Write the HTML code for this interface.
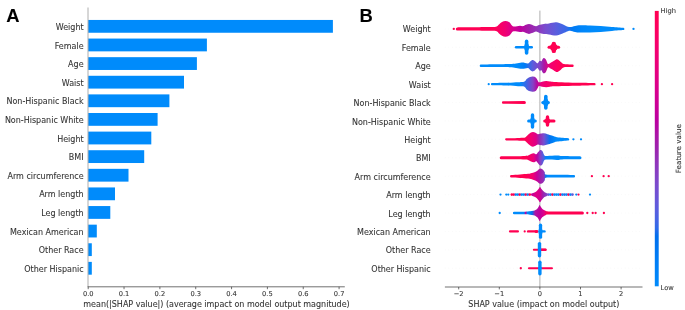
<!DOCTYPE html>
<html><head><meta charset="utf-8"><title>SHAP summary</title>
<style>html,body{margin:0;padding:0;background:#fff;width:685px;height:310px;overflow:hidden}svg{display:block}</style>
</head><body><svg width="685" height="310" viewBox="0 0 685 310"><defs><linearGradient id="cb" x1="0" y1="0" x2="0" y2="1"><stop offset="0.000" stop-color="#ff0051"/><stop offset="0.030" stop-color="#ff0058"/><stop offset="0.061" stop-color="#fd005f"/><stop offset="0.091" stop-color="#fa0065"/><stop offset="0.121" stop-color="#f6006c"/><stop offset="0.152" stop-color="#f10072"/><stop offset="0.182" stop-color="#ec0078"/><stop offset="0.212" stop-color="#e7007e"/><stop offset="0.242" stop-color="#e10084"/><stop offset="0.273" stop-color="#db008a"/><stop offset="0.303" stop-color="#d40090"/><stop offset="0.333" stop-color="#cd0095"/><stop offset="0.364" stop-color="#c5009a"/><stop offset="0.394" stop-color="#bc009f"/><stop offset="0.424" stop-color="#b30aa3"/><stop offset="0.455" stop-color="#aa17a7"/><stop offset="0.485" stop-color="#a01fab"/><stop offset="0.515" stop-color="#9829b1"/><stop offset="0.545" stop-color="#9233b9"/><stop offset="0.576" stop-color="#8a3cc0"/><stop offset="0.606" stop-color="#8244c7"/><stop offset="0.636" stop-color="#794cce"/><stop offset="0.667" stop-color="#6f52d4"/><stop offset="0.697" stop-color="#6459da"/><stop offset="0.727" stop-color="#575fdf"/><stop offset="0.758" stop-color="#4664e4"/><stop offset="0.788" stop-color="#306ae9"/><stop offset="0.818" stop-color="#006fed"/><stop offset="0.848" stop-color="#0074f0"/><stop offset="0.879" stop-color="#0079f3"/><stop offset="0.909" stop-color="#007ef6"/><stop offset="0.939" stop-color="#0082f8"/><stop offset="0.970" stop-color="#0086fa"/><stop offset="1.000" stop-color="#008bfb"/><stop offset="1" stop-color="#008bfb"/></linearGradient><linearGradient id="g1" gradientUnits="userSpaceOnUse" x1="455.8" y1="0" x2="624.4" y2="0"><stop offset="0.0012" stop-color="#ff0051"/><stop offset="0.2325" stop-color="#ff0058"/><stop offset="0.2918" stop-color="#f10072"/><stop offset="0.3333" stop-color="#d9008c"/><stop offset="0.3808" stop-color="#bf009d"/><stop offset="0.4342" stop-color="#a01fab"/><stop offset="0.4816" stop-color="#9233b9"/><stop offset="0.5291" stop-color="#794cce"/><stop offset="0.5943" stop-color="#5b5ddd"/><stop offset="0.6536" stop-color="#3968e7"/><stop offset="0.6892" stop-color="#0079f3"/><stop offset="0.7485" stop-color="#0086fa"/><stop offset="0.8078" stop-color="#008bfb"/></linearGradient><linearGradient id="g2" gradientUnits="userSpaceOnUse" x1="479.7" y1="0" x2="573.7" y2="0"><stop offset="0.0000" stop-color="#008bfb"/><stop offset="0.4074" stop-color="#008bfb"/><stop offset="0.4819" stop-color="#007cf5"/><stop offset="0.5628" stop-color="#5b5ddd"/><stop offset="0.6415" stop-color="#8542c5"/><stop offset="0.6840" stop-color="#aa17a7"/><stop offset="0.7479" stop-color="#f10072"/><stop offset="0.8223" stop-color="#fc0061"/><stop offset="0.9074" stop-color="#ff0051"/></linearGradient><linearGradient id="g3" gradientUnits="userSpaceOnUse" x1="490.9" y1="0" x2="595.6" y2="0"><stop offset="0.0000" stop-color="#008bfb"/><stop offset="0.2779" stop-color="#008bfb"/><stop offset="0.3352" stop-color="#3968e7"/><stop offset="0.4021" stop-color="#8542c5"/><stop offset="0.4403" stop-color="#b30aa3"/><stop offset="0.4785" stop-color="#e9007c"/><stop offset="0.5645" stop-color="#fc0061"/><stop offset="0.6409" stop-color="#ff0051"/></linearGradient><linearGradient id="g4" gradientUnits="userSpaceOnUse" x1="505.1" y1="0" x2="569.3" y2="0"><stop offset="0.0000" stop-color="#ff0051"/><stop offset="0.3100" stop-color="#ff0051"/><stop offset="0.4034" stop-color="#f10072"/><stop offset="0.4813" stop-color="#df0086"/><stop offset="0.5280" stop-color="#9d22ac"/><stop offset="0.6059" stop-color="#764ed0"/><stop offset="0.6994" stop-color="#0074f0"/><stop offset="0.7928" stop-color="#008bfb"/></linearGradient><linearGradient id="g5" gradientUnits="userSpaceOnUse" x1="499.7" y1="0" x2="581.5" y2="0"><stop offset="0.0000" stop-color="#ff0051"/><stop offset="0.3215" stop-color="#ff0051"/><stop offset="0.4169" stop-color="#e9007c"/><stop offset="0.4560" stop-color="#b900a0"/><stop offset="0.4976" stop-color="#8542c5"/><stop offset="0.5355" stop-color="#4c63e3"/><stop offset="0.5660" stop-color="#0084f9"/><stop offset="0.6149" stop-color="#008bfb"/></linearGradient><linearGradient id="g6" gradientUnits="userSpaceOnUse" x1="510" y1="0" x2="575.1" y2="0"><stop offset="0.0000" stop-color="#ff0051"/><stop offset="0.2458" stop-color="#ff0051"/><stop offset="0.3533" stop-color="#f10072"/><stop offset="0.4147" stop-color="#c70098"/><stop offset="0.4762" stop-color="#9d22ac"/><stop offset="0.5223" stop-color="#9233b9"/><stop offset="0.5499" stop-color="#007cf5"/><stop offset="0.5837" stop-color="#008bfb"/></linearGradient><linearGradient id="g7" gradientUnits="userSpaceOnUse" x1="531" y1="0" x2="548" y2="0"><stop offset="0.0000" stop-color="#b900a0"/><stop offset="0.2941" stop-color="#df0086"/><stop offset="0.5294" stop-color="#d40090"/><stop offset="0.7059" stop-color="#9d22ac"/><stop offset="1.0000" stop-color="#764ed0"/></linearGradient><linearGradient id="g8" gradientUnits="userSpaceOnUse" x1="512.9" y1="0" x2="583.9" y2="0"><stop offset="0.0000" stop-color="#008bfb"/><stop offset="0.1563" stop-color="#008bfb"/><stop offset="0.1789" stop-color="#b900a0"/><stop offset="0.2056" stop-color="#008bfb"/><stop offset="0.2690" stop-color="#0074f0"/><stop offset="0.3113" stop-color="#aa17a7"/><stop offset="0.3817" stop-color="#bf009d"/><stop offset="0.4380" stop-color="#df0086"/><stop offset="0.4803" stop-color="#ff0051"/><stop offset="1.0000" stop-color="#ff0051"/></linearGradient></defs><style>text{stroke:#333;stroke-width:0.08px}</style><text x="6.3" y="21.6" font-family="Liberation Sans, Arial, sans-serif" font-weight="bold" font-size="18.4" fill="#000">A</text><rect x="88.20" y="19.95" width="244.70" height="12.8" fill="#008bfb"/><text x="83.6" y="29.90" text-anchor="end" font-family="'DejaVu Sans', sans-serif" font-size="8.0" fill="#333">Weight</text><rect x="88.20" y="38.56" width="118.70" height="12.8" fill="#008bfb"/><text x="83.6" y="48.51" text-anchor="end" font-family="'DejaVu Sans', sans-serif" font-size="8.0" fill="#333">Female</text><rect x="88.20" y="57.17" width="108.70" height="12.8" fill="#008bfb"/><text x="83.6" y="67.12" text-anchor="end" font-family="'DejaVu Sans', sans-serif" font-size="8.0" fill="#333">Age</text><rect x="88.20" y="75.78" width="95.80" height="12.8" fill="#008bfb"/><text x="83.6" y="85.73" text-anchor="end" font-family="'DejaVu Sans', sans-serif" font-size="8.0" fill="#333">Waist</text><rect x="88.20" y="94.39" width="81.20" height="12.8" fill="#008bfb"/><text x="83.6" y="104.34" text-anchor="end" font-family="'DejaVu Sans', sans-serif" font-size="8.0" fill="#333">Non-Hispanic Black</text><rect x="88.20" y="113.00" width="69.40" height="12.8" fill="#008bfb"/><text x="83.6" y="122.95" text-anchor="end" font-family="'DejaVu Sans', sans-serif" font-size="8.0" fill="#333">Non-Hispanic White</text><rect x="88.20" y="131.61" width="63.10" height="12.8" fill="#008bfb"/><text x="83.6" y="141.56" text-anchor="end" font-family="'DejaVu Sans', sans-serif" font-size="8.0" fill="#333">Height</text><rect x="88.20" y="150.22" width="56.00" height="12.8" fill="#008bfb"/><text x="83.6" y="160.17" text-anchor="end" font-family="'DejaVu Sans', sans-serif" font-size="8.0" fill="#333">BMI</text><rect x="88.20" y="168.83" width="40.30" height="12.8" fill="#008bfb"/><text x="83.6" y="178.78" text-anchor="end" font-family="'DejaVu Sans', sans-serif" font-size="8.0" fill="#333">Arm circumference</text><rect x="88.20" y="187.44" width="26.80" height="12.8" fill="#008bfb"/><text x="83.6" y="197.39" text-anchor="end" font-family="'DejaVu Sans', sans-serif" font-size="8.0" fill="#333">Arm length</text><rect x="88.20" y="206.05" width="22.10" height="12.8" fill="#008bfb"/><text x="83.6" y="216.00" text-anchor="end" font-family="'DejaVu Sans', sans-serif" font-size="8.0" fill="#333">Leg length</text><rect x="88.20" y="224.66" width="8.60" height="12.8" fill="#008bfb"/><text x="83.6" y="234.61" text-anchor="end" font-family="'DejaVu Sans', sans-serif" font-size="8.0" fill="#333">Mexican American</text><rect x="88.20" y="243.27" width="3.60" height="12.8" fill="#008bfb"/><text x="83.6" y="253.22" text-anchor="end" font-family="'DejaVu Sans', sans-serif" font-size="8.0" fill="#333">Other Race</text><rect x="88.20" y="261.88" width="3.60" height="12.8" fill="#008bfb"/><text x="83.6" y="271.83" text-anchor="end" font-family="'DejaVu Sans', sans-serif" font-size="8.0" fill="#333">Other Hispanic</text><line x1="88.00" y1="7.5" x2="88.00" y2="286.8" stroke="#999" stroke-width="0.8"/><line x1="87.60" y1="286.8" x2="344.8" y2="286.8" stroke="#333" stroke-width="0.7"/><line x1="88.20" y1="286.8" x2="88.20" y2="289.2" stroke="#333" stroke-width="0.7"/><text x="88.20" y="296.0" text-anchor="middle" font-family="'DejaVu Sans', sans-serif" font-size="6.7" fill="#333">0.0</text><line x1="124.04" y1="286.8" x2="124.04" y2="289.2" stroke="#333" stroke-width="0.7"/><text x="124.04" y="296.0" text-anchor="middle" font-family="'DejaVu Sans', sans-serif" font-size="6.7" fill="#333">0.1</text><line x1="159.88" y1="286.8" x2="159.88" y2="289.2" stroke="#333" stroke-width="0.7"/><text x="159.88" y="296.0" text-anchor="middle" font-family="'DejaVu Sans', sans-serif" font-size="6.7" fill="#333">0.2</text><line x1="195.72" y1="286.8" x2="195.72" y2="289.2" stroke="#333" stroke-width="0.7"/><text x="195.72" y="296.0" text-anchor="middle" font-family="'DejaVu Sans', sans-serif" font-size="6.7" fill="#333">0.3</text><line x1="231.56" y1="286.8" x2="231.56" y2="289.2" stroke="#333" stroke-width="0.7"/><text x="231.56" y="296.0" text-anchor="middle" font-family="'DejaVu Sans', sans-serif" font-size="6.7" fill="#333">0.4</text><line x1="267.40" y1="286.8" x2="267.40" y2="289.2" stroke="#333" stroke-width="0.7"/><text x="267.40" y="296.0" text-anchor="middle" font-family="'DejaVu Sans', sans-serif" font-size="6.7" fill="#333">0.5</text><line x1="303.24" y1="286.8" x2="303.24" y2="289.2" stroke="#333" stroke-width="0.7"/><text x="303.24" y="296.0" text-anchor="middle" font-family="'DejaVu Sans', sans-serif" font-size="6.7" fill="#333">0.6</text><line x1="339.08" y1="286.8" x2="339.08" y2="289.2" stroke="#333" stroke-width="0.7"/><text x="339.08" y="296.0" text-anchor="middle" font-family="'DejaVu Sans', sans-serif" font-size="6.7" fill="#333">0.7</text><text x="216.5" y="306.9" text-anchor="middle" font-family="'DejaVu Sans', sans-serif" font-size="8.0" fill="#333">mean(|SHAP value|) (average impact on model output magnitude)</text><text x="359.4" y="21.6" font-family="Liberation Sans, Arial, sans-serif" font-weight="bold" font-size="18.4" fill="#000">B</text><line x1="444.9" y1="28.90" x2="642.5" y2="28.90" stroke="#e8e8e8" stroke-width="0.4" stroke-dasharray="0.6 3"/><text x="430.7" y="32.45" text-anchor="end" font-family="'DejaVu Sans', sans-serif" font-size="8.0" fill="#333">Weight</text><line x1="444.9" y1="47.31" x2="642.5" y2="47.31" stroke="#e8e8e8" stroke-width="0.4" stroke-dasharray="0.6 3"/><text x="430.7" y="50.86" text-anchor="end" font-family="'DejaVu Sans', sans-serif" font-size="8.0" fill="#333">Female</text><line x1="444.9" y1="65.72" x2="642.5" y2="65.72" stroke="#e8e8e8" stroke-width="0.4" stroke-dasharray="0.6 3"/><text x="430.7" y="69.27" text-anchor="end" font-family="'DejaVu Sans', sans-serif" font-size="8.0" fill="#333">Age</text><line x1="444.9" y1="84.13" x2="642.5" y2="84.13" stroke="#e8e8e8" stroke-width="0.4" stroke-dasharray="0.6 3"/><text x="430.7" y="87.68" text-anchor="end" font-family="'DejaVu Sans', sans-serif" font-size="8.0" fill="#333">Waist</text><line x1="444.9" y1="102.54" x2="642.5" y2="102.54" stroke="#e8e8e8" stroke-width="0.4" stroke-dasharray="0.6 3"/><text x="430.7" y="106.09" text-anchor="end" font-family="'DejaVu Sans', sans-serif" font-size="8.0" fill="#333">Non-Hispanic Black</text><line x1="444.9" y1="120.95" x2="642.5" y2="120.95" stroke="#e8e8e8" stroke-width="0.4" stroke-dasharray="0.6 3"/><text x="430.7" y="124.50" text-anchor="end" font-family="'DejaVu Sans', sans-serif" font-size="8.0" fill="#333">Non-Hispanic White</text><line x1="444.9" y1="139.36" x2="642.5" y2="139.36" stroke="#e8e8e8" stroke-width="0.4" stroke-dasharray="0.6 3"/><text x="430.7" y="142.91" text-anchor="end" font-family="'DejaVu Sans', sans-serif" font-size="8.0" fill="#333">Height</text><line x1="444.9" y1="157.77" x2="642.5" y2="157.77" stroke="#e8e8e8" stroke-width="0.4" stroke-dasharray="0.6 3"/><text x="430.7" y="161.32" text-anchor="end" font-family="'DejaVu Sans', sans-serif" font-size="8.0" fill="#333">BMI</text><line x1="444.9" y1="176.18" x2="642.5" y2="176.18" stroke="#e8e8e8" stroke-width="0.4" stroke-dasharray="0.6 3"/><text x="430.7" y="179.73" text-anchor="end" font-family="'DejaVu Sans', sans-serif" font-size="8.0" fill="#333">Arm circumference</text><line x1="444.9" y1="194.59" x2="642.5" y2="194.59" stroke="#e8e8e8" stroke-width="0.4" stroke-dasharray="0.6 3"/><text x="430.7" y="198.14" text-anchor="end" font-family="'DejaVu Sans', sans-serif" font-size="8.0" fill="#333">Arm length</text><line x1="444.9" y1="213.00" x2="642.5" y2="213.00" stroke="#e8e8e8" stroke-width="0.4" stroke-dasharray="0.6 3"/><text x="430.7" y="216.55" text-anchor="end" font-family="'DejaVu Sans', sans-serif" font-size="8.0" fill="#333">Leg length</text><line x1="444.9" y1="231.41" x2="642.5" y2="231.41" stroke="#e8e8e8" stroke-width="0.4" stroke-dasharray="0.6 3"/><text x="430.7" y="234.96" text-anchor="end" font-family="'DejaVu Sans', sans-serif" font-size="8.0" fill="#333">Mexican American</text><line x1="444.9" y1="249.82" x2="642.5" y2="249.82" stroke="#e8e8e8" stroke-width="0.4" stroke-dasharray="0.6 3"/><text x="430.7" y="253.37" text-anchor="end" font-family="'DejaVu Sans', sans-serif" font-size="8.0" fill="#333">Other Race</text><line x1="444.9" y1="268.23" x2="642.5" y2="268.23" stroke="#e8e8e8" stroke-width="0.4" stroke-dasharray="0.6 3"/><text x="430.7" y="271.78" text-anchor="end" font-family="'DejaVu Sans', sans-serif" font-size="8.0" fill="#333">Other Hispanic</text><line x1="539.9" y1="10.6" x2="539.9" y2="287" stroke="#999" stroke-width="0.8"/><line x1="444.9" y1="287" x2="642.5" y2="287" stroke="#333" stroke-width="0.7"/><line x1="458.70" y1="287" x2="458.70" y2="289.4" stroke="#333" stroke-width="0.7"/><text x="458.70" y="296.0" text-anchor="middle" font-family="'DejaVu Sans', sans-serif" font-size="6.7" fill="#333">−2</text><line x1="499.30" y1="287" x2="499.30" y2="289.4" stroke="#333" stroke-width="0.7"/><text x="499.30" y="296.0" text-anchor="middle" font-family="'DejaVu Sans', sans-serif" font-size="6.7" fill="#333">−1</text><line x1="539.90" y1="287" x2="539.90" y2="289.4" stroke="#333" stroke-width="0.7"/><text x="539.90" y="296.0" text-anchor="middle" font-family="'DejaVu Sans', sans-serif" font-size="6.7" fill="#333">0</text><line x1="580.50" y1="287" x2="580.50" y2="289.4" stroke="#333" stroke-width="0.7"/><text x="580.50" y="296.0" text-anchor="middle" font-family="'DejaVu Sans', sans-serif" font-size="6.7" fill="#333">1</text><line x1="621.10" y1="287" x2="621.10" y2="289.4" stroke="#333" stroke-width="0.7"/><text x="621.10" y="296.0" text-anchor="middle" font-family="'DejaVu Sans', sans-serif" font-size="6.7" fill="#333">2</text><text x="543.8" y="306.8" text-anchor="middle" font-family="'DejaVu Sans', sans-serif" font-size="8.0" fill="#333">SHAP value (impact on model output)</text><rect x="654.8" y="10.9" width="3.9" height="275.4" fill="url(#cb)"/><text x="660.6" y="12.9" font-family="'DejaVu Sans', sans-serif" font-size="6.7" fill="#333">High</text><text x="660.6" y="289.5" font-family="'DejaVu Sans', sans-serif" font-size="6.7" fill="#333">Low</text><text transform="translate(681.3,148.6) rotate(-90)" text-anchor="middle" font-family="'DejaVu Sans', sans-serif" font-size="7.2" fill="#333">Feature value</text><circle cx="453.80" cy="28.90" r="1.15" fill="#ff0051"/><path d="M457.30,27.40 C459.42,27.38 464.88,27.36 470.00,27.30 C475.12,27.24 483.67,27.15 488.00,27.05 C492.33,26.95 494.17,27.14 496.00,26.70 C497.83,26.26 498.00,25.17 499.00,24.40 C500.00,23.63 500.93,22.65 502.00,22.10 C503.07,21.55 504.23,21.10 505.40,21.10 C506.57,21.10 507.98,21.47 509.00,22.10 C510.02,22.73 510.75,24.17 511.50,24.90 C512.25,25.63 512.58,26.27 513.50,26.50 C514.42,26.73 515.92,26.43 517.00,26.30 C518.08,26.17 519.00,25.73 520.00,25.70 C521.00,25.67 522.00,26.27 523.00,26.10 C524.00,25.93 525.00,25.07 526.00,24.70 C527.00,24.33 528.00,23.90 529.00,23.90 C530.00,23.90 530.83,24.30 532.00,24.70 C533.17,25.10 534.83,26.23 536.00,26.30 C537.17,26.37 537.70,25.50 539.00,25.10 C540.30,24.70 542.13,24.18 543.80,23.90 C545.47,23.62 546.93,23.67 549.00,23.40 C551.07,23.13 554.03,22.18 556.20,22.30 C558.37,22.42 560.37,23.50 562.00,24.10 C563.63,24.70 564.67,25.40 566.00,25.90 C567.33,26.40 568.50,27.10 570.00,27.10 C571.50,27.10 573.28,26.22 575.00,25.90 C576.72,25.58 577.80,25.28 580.30,25.20 C582.80,25.12 586.60,25.28 590.00,25.40 C593.40,25.52 597.03,25.65 600.70,25.90 C604.37,26.15 608.25,26.60 612.00,26.90 C615.75,27.20 621.33,27.57 623.20,27.70 A1.20,1.20 0 0 1 623.20,30.10 C621.33,30.23 615.75,30.60 612.00,30.90 C608.25,31.20 604.37,31.65 600.70,31.90 C597.03,32.15 593.40,32.28 590.00,32.40 C586.60,32.52 582.80,32.68 580.30,32.60 C577.80,32.52 576.72,32.22 575.00,31.90 C573.28,31.58 571.50,30.70 570.00,30.70 C568.50,30.70 567.33,31.40 566.00,31.90 C564.67,32.40 563.63,33.10 562.00,33.70 C560.37,34.30 558.37,35.38 556.20,35.50 C554.03,35.62 551.07,34.67 549.00,34.40 C546.93,34.13 545.47,34.18 543.80,33.90 C542.13,33.62 540.30,33.10 539.00,32.70 C537.70,32.30 537.17,31.43 536.00,31.50 C534.83,31.57 533.17,32.70 532.00,33.10 C530.83,33.50 530.00,33.90 529.00,33.90 C528.00,33.90 527.00,33.47 526.00,33.10 C525.00,32.73 524.00,31.87 523.00,31.70 C522.00,31.53 521.00,32.13 520.00,32.10 C519.00,32.07 518.08,31.63 517.00,31.50 C515.92,31.37 514.42,31.07 513.50,31.30 C512.58,31.53 512.25,32.17 511.50,32.90 C510.75,33.63 510.02,35.07 509.00,35.70 C507.98,36.33 506.57,36.70 505.40,36.70 C504.23,36.70 503.07,36.25 502.00,35.70 C500.93,35.15 500.00,34.17 499.00,33.40 C498.00,32.63 497.83,31.54 496.00,31.10 C494.17,30.66 492.33,30.85 488.00,30.75 C483.67,30.65 475.12,30.56 470.00,30.50 C464.88,30.44 459.42,30.42 457.30,30.40 A1.50,1.50 0 0 1 457.30,27.40Z" fill="url(#g1)"/><circle cx="633.50" cy="28.90" r="1.15" fill="#008bfb"/><rect x="524.80" y="39.60" width="3.60" height="15.20" rx="1.80" fill="#008bfb"/><rect x="514.80" y="46.06" width="18.20" height="2.50" rx="1.25" fill="#008bfb"/><ellipse cx="526.60" cy="47.31" rx="2.40" ry="4.00" fill="#008bfb"/><rect x="551.60" y="41.70" width="4.40" height="11.40" rx="2.20" fill="#ff0051"/><rect x="547.50" y="45.81" width="12.60" height="3.00" rx="1.50" fill="#ff0051"/><ellipse cx="553.80" cy="47.31" rx="3.80" ry="3.60" fill="#ff0051"/><path d="M480.90,64.52 C484.08,64.49 495.15,64.39 500.00,64.32 C504.85,64.25 507.33,64.25 510.00,64.12 C512.67,63.99 514.07,63.77 516.00,63.52 C517.93,63.27 520.10,62.72 521.60,62.62 C523.10,62.52 523.90,62.79 525.00,62.92 C526.10,63.05 527.28,63.70 528.20,63.42 C529.12,63.14 529.77,61.79 530.50,61.22 C531.23,60.65 531.85,60.02 532.60,60.02 C533.35,60.02 534.20,60.67 535.00,61.22 C535.80,61.77 536.77,63.24 537.40,63.32 C538.03,63.40 538.37,62.15 538.80,61.72 C539.23,61.29 539.55,60.80 540.00,60.72 C540.45,60.64 541.08,61.47 541.50,61.22 C541.92,60.97 542.08,59.74 542.50,59.22 C542.92,58.70 543.42,57.99 544.00,58.07 C544.58,58.15 545.35,58.74 546.00,59.72 C546.65,60.70 547.23,63.34 547.90,63.92 C548.57,64.50 549.32,63.52 550.00,63.22 C550.68,62.92 551.25,62.57 552.00,62.12 C552.75,61.67 553.65,60.98 554.50,60.52 C555.35,60.06 556.27,59.34 557.10,59.37 C557.93,59.40 558.77,60.20 559.50,60.72 C560.23,61.24 560.92,62.02 561.50,62.52 C562.08,63.02 562.25,63.42 563.00,63.72 C563.75,64.02 564.42,64.19 566.00,64.32 C567.58,64.45 571.42,64.49 572.50,64.52 A1.20,1.20 0 0 1 572.50,66.92 C571.42,66.95 567.58,66.99 566.00,67.12 C564.42,67.25 563.75,67.42 563.00,67.72 C562.25,68.02 562.08,68.42 561.50,68.92 C560.92,69.42 560.23,70.19 559.50,70.72 C558.77,71.25 557.93,72.04 557.10,72.07 C556.27,72.10 555.35,71.38 554.50,70.92 C553.65,70.46 552.75,69.77 552.00,69.32 C551.25,68.87 550.68,68.52 550.00,68.22 C549.32,67.92 548.57,66.94 547.90,67.52 C547.23,68.10 546.65,70.75 546.00,71.72 C545.35,72.69 544.58,73.29 544.00,73.37 C543.42,73.45 542.92,72.75 542.50,72.22 C542.08,71.69 541.92,70.47 541.50,70.22 C541.08,69.97 540.45,70.80 540.00,70.72 C539.55,70.64 539.23,70.15 538.80,69.72 C538.37,69.29 538.03,68.04 537.40,68.12 C536.77,68.20 535.80,69.67 535.00,70.22 C534.20,70.77 533.35,71.42 532.60,71.42 C531.85,71.42 531.23,70.79 530.50,70.22 C529.77,69.65 529.12,68.30 528.20,68.02 C527.28,67.74 526.10,68.39 525.00,68.52 C523.90,68.65 523.10,68.92 521.60,68.82 C520.10,68.72 517.93,68.17 516.00,67.92 C514.07,67.67 512.67,67.45 510.00,67.32 C507.33,67.19 504.85,67.19 500.00,67.12 C495.15,67.05 484.08,66.95 480.90,66.92 A1.20,1.20 0 0 1 480.90,64.52Z" fill="url(#g2)"/><circle cx="488.70" cy="84.13" r="1.1" fill="#008bfb"/><path d="M492.00,83.03 C494.17,83.00 500.67,82.98 505.00,82.83 C509.33,82.68 515.08,82.28 518.00,82.13 C520.92,81.98 521.33,82.10 522.50,81.93 C523.67,81.76 524.25,81.68 525.00,81.13 C525.75,80.58 526.17,79.33 527.00,78.63 C527.83,77.93 529.00,77.29 530.00,76.93 C531.00,76.57 532.00,76.36 533.00,76.48 C534.00,76.60 535.20,76.94 536.00,77.63 C536.80,78.32 537.30,79.85 537.80,80.63 C538.30,81.41 538.30,82.16 539.00,82.33 C539.70,82.50 540.80,81.85 542.00,81.63 C543.20,81.41 544.87,81.05 546.20,81.03 C547.53,81.01 548.70,81.38 550.00,81.53 C551.30,81.68 551.50,81.79 554.00,81.93 C556.50,82.07 560.67,82.26 565.00,82.38 C569.33,82.50 575.10,82.54 580.00,82.63 C584.90,82.72 592.00,82.88 594.40,82.93 A1.20,1.20 0 0 1 594.40,85.33 C592.00,85.38 584.90,85.54 580.00,85.63 C575.10,85.72 569.33,85.76 565.00,85.88 C560.67,86.00 556.50,86.19 554.00,86.33 C551.50,86.47 551.30,86.58 550.00,86.73 C548.70,86.88 547.53,87.25 546.20,87.23 C544.87,87.21 543.20,86.85 542.00,86.63 C540.80,86.41 539.70,85.76 539.00,85.93 C538.30,86.10 538.30,86.85 537.80,87.63 C537.30,88.41 536.80,89.94 536.00,90.63 C535.20,91.32 534.00,91.66 533.00,91.78 C532.00,91.90 531.00,91.69 530.00,91.33 C529.00,90.97 527.83,90.33 527.00,89.63 C526.17,88.93 525.75,87.68 525.00,87.13 C524.25,86.58 523.67,86.50 522.50,86.33 C521.33,86.16 520.92,86.28 518.00,86.13 C515.08,85.98 509.33,85.58 505.00,85.43 C500.67,85.28 494.17,85.26 492.00,85.23 A1.10,1.10 0 0 1 492.00,83.03Z" fill="url(#g3)"/><circle cx="601.90" cy="84.13" r="1.15" fill="#ff0051"/><circle cx="612.10" cy="84.13" r="1.15" fill="#ff0051"/><path d="M503.1,102.54 m0,-1.2 L524.4,101.04 a1.5,1.5 0 0 1 0,3.0 L503.1,103.74 a1.2,1.2 0 0 1 0,-2.4Z" fill="#ff0051"/><rect x="544.00" y="94.80" width="3.60" height="15.00" rx="1.80" fill="#008bfb"/><rect x="541.30" y="100.94" width="8.60" height="3.20" rx="1.60" fill="#008bfb"/><ellipse cx="545.80" cy="102.54" rx="2.60" ry="4.00" fill="#008bfb"/><rect x="530.80" y="113.30" width="3.40" height="15.50" rx="1.70" fill="#008bfb"/><rect x="527.10" y="119.45" width="9.70" height="3.00" rx="1.50" fill="#008bfb"/><ellipse cx="532.50" cy="120.95" rx="2.30" ry="3.60" fill="#008bfb"/><rect x="545.80" y="115.20" width="3.40" height="11.60" rx="1.70" fill="#ff0051"/><rect x="543.20" y="119.45" width="12.30" height="3.00" rx="1.50" fill="#ff0051"/><ellipse cx="547.50" cy="120.95" rx="2.60" ry="3.00" fill="#ff0051"/><path d="M506.20,138.26 C507.67,138.24 512.20,138.23 515.00,138.16 C517.80,138.09 521.25,137.99 523.00,137.86 C524.75,137.73 524.67,137.86 525.50,137.36 C526.33,136.86 527.17,135.61 528.00,134.86 C528.83,134.11 529.67,133.35 530.50,132.86 C531.33,132.37 532.17,131.91 533.00,131.91 C533.83,131.91 534.70,132.49 535.50,132.86 C536.30,133.24 537.05,134.01 537.80,134.16 C538.55,134.31 538.98,133.91 540.00,133.76 C541.02,133.61 542.65,133.19 543.90,133.26 C545.15,133.33 546.18,133.79 547.50,134.16 C548.82,134.53 550.63,135.06 551.80,135.46 C552.97,135.86 553.63,136.28 554.50,136.56 C555.37,136.84 555.58,136.96 557.00,137.16 C558.42,137.36 561.15,137.59 563.00,137.76 C564.85,137.93 567.25,138.09 568.10,138.16 A1.20,1.20 0 0 1 568.10,140.56 C567.25,140.63 564.85,140.79 563.00,140.96 C561.15,141.13 558.42,141.36 557.00,141.56 C555.58,141.76 555.37,141.88 554.50,142.16 C553.63,142.44 552.97,142.86 551.80,143.26 C550.63,143.66 548.82,144.19 547.50,144.56 C546.18,144.93 545.15,145.39 543.90,145.46 C542.65,145.53 541.02,145.11 540.00,144.96 C538.98,144.81 538.55,144.41 537.80,144.56 C537.05,144.71 536.30,145.49 535.50,145.86 C534.70,146.24 533.83,146.81 533.00,146.81 C532.17,146.81 531.33,146.35 530.50,145.86 C529.67,145.37 528.83,144.61 528.00,143.86 C527.17,143.11 526.33,141.86 525.50,141.36 C524.67,140.86 524.75,140.99 523.00,140.86 C521.25,140.73 517.80,140.63 515.00,140.56 C512.20,140.49 507.67,140.48 506.20,140.46 A1.10,1.10 0 0 1 506.20,138.26Z" fill="url(#g4)"/><circle cx="573.40" cy="139.36" r="1.15" fill="#008bfb"/><circle cx="581.00" cy="139.36" r="1.15" fill="#008bfb"/><path d="M501.20,156.27 C503.50,156.27 511.03,156.32 515.00,156.27 C518.97,156.22 522.82,156.09 525.00,155.97 C527.18,155.85 527.10,155.90 528.10,155.57 C529.10,155.24 530.05,154.37 531.00,153.97 C531.95,153.57 532.92,153.12 533.80,153.17 C534.68,153.22 535.60,154.42 536.30,154.27 C537.00,154.12 537.32,153.00 538.00,152.27 C538.68,151.55 539.65,150.09 540.40,149.92 C541.15,149.75 541.85,150.40 542.50,151.27 C543.15,152.15 543.55,154.39 544.30,155.17 C545.05,155.95 544.88,155.90 547.00,155.97 C549.12,156.04 554.50,155.55 557.00,155.57 C559.50,155.59 559.83,155.97 562.00,156.07 C564.17,156.17 567.02,156.15 570.00,156.17 C572.98,156.19 578.25,156.17 579.90,156.17 A1.60,1.60 0 0 1 579.90,159.37 C578.25,159.37 572.98,159.35 570.00,159.37 C567.02,159.39 564.17,159.37 562.00,159.47 C559.83,159.57 559.50,159.95 557.00,159.97 C554.50,159.99 549.12,159.50 547.00,159.57 C544.88,159.64 545.05,159.59 544.30,160.37 C543.55,161.15 543.15,163.40 542.50,164.27 C541.85,165.15 541.15,165.79 540.40,165.62 C539.65,165.45 538.68,164.00 538.00,163.27 C537.32,162.55 537.00,161.42 536.30,161.27 C535.60,161.12 534.68,162.32 533.80,162.37 C532.92,162.42 531.95,161.97 531.00,161.57 C530.05,161.17 529.10,160.30 528.10,159.97 C527.10,159.64 527.18,159.69 525.00,159.57 C522.82,159.45 518.97,159.32 515.00,159.27 C511.03,159.22 503.50,159.27 501.20,159.27 A1.50,1.50 0 0 1 501.20,156.27Z" fill="url(#g5)"/><path d="M511.30,174.88 C512.75,174.80 517.20,174.56 520.00,174.38 C522.80,174.20 525.93,174.06 528.10,173.78 C530.27,173.50 531.52,173.15 533.00,172.68 C534.48,172.21 536.00,171.56 537.00,170.98 C538.00,170.40 538.37,169.59 539.00,169.18 C539.63,168.77 540.13,168.45 540.80,168.53 C541.47,168.61 542.33,169.07 543.00,169.68 C543.67,170.29 544.33,171.36 544.80,172.18 C545.27,173.00 544.10,174.15 545.80,174.58 C547.50,175.01 550.33,174.72 555.00,174.78 C559.67,174.84 570.71,174.91 573.85,174.93 A1.25,1.25 0 0 1 573.85,177.43 C570.71,177.46 559.67,177.52 555.00,177.58 C550.33,177.64 547.50,177.35 545.80,177.78 C544.10,178.21 545.27,179.36 544.80,180.18 C544.33,181.00 543.67,182.07 543.00,182.68 C542.33,183.29 541.47,183.75 540.80,183.83 C540.13,183.91 539.63,183.59 539.00,183.18 C538.37,182.77 538.00,181.96 537.00,181.38 C536.00,180.80 534.48,180.15 533.00,179.68 C531.52,179.21 530.27,178.86 528.10,178.58 C525.93,178.30 522.80,178.16 520.00,177.98 C517.20,177.80 512.75,177.56 511.30,177.48 A1.30,1.30 0 0 1 511.30,174.88Z" fill="url(#g6)"/><circle cx="591.90" cy="176.18" r="1.15" fill="#ff0051"/><circle cx="603.60" cy="176.18" r="1.15" fill="#ff0051"/><circle cx="608.70" cy="176.18" r="1.15" fill="#ff0051"/><circle cx="500.50" cy="194.59" r="1.15" fill="#008bfb"/><circle cx="506.30" cy="194.59" r="1.15" fill="#008bfb"/><circle cx="508.30" cy="194.59" r="1.15" fill="#008bfb"/><circle cx="511.80" cy="194.59" r="1.3" fill="#ff0051"/><circle cx="513.80" cy="194.59" r="1.3" fill="#ff0051"/><circle cx="515.80" cy="194.59" r="1.3" fill="#008bfb"/><circle cx="517.80" cy="194.59" r="1.3" fill="#008bfb"/><circle cx="519.80" cy="194.59" r="1.3" fill="#ff0051"/><circle cx="521.80" cy="194.59" r="1.3" fill="#008bfb"/><circle cx="523.80" cy="194.59" r="1.3" fill="#008bfb"/><circle cx="525.80" cy="194.59" r="1.3" fill="#ff0051"/><circle cx="527.80" cy="194.59" r="1.3" fill="#008bfb"/><circle cx="529.80" cy="194.59" r="1.3" fill="#ff0051"/><path d="M532.30,193.29 C532.42,193.24 532.55,193.17 533.00,192.99 C533.45,192.81 534.37,192.52 535.00,192.19 C535.63,191.86 536.22,191.52 536.80,190.99 C537.38,190.46 537.97,189.67 538.50,188.99 C539.03,188.31 539.50,186.89 540.00,186.89 C540.50,186.89 540.97,188.31 541.50,188.99 C542.03,189.67 542.62,190.42 543.20,190.99 C543.78,191.56 544.45,192.06 545.00,192.39 C545.55,192.72 546.22,192.84 546.50,192.99 C546.78,193.14 546.67,193.24 546.70,193.29 A1.30,1.30 0 0 1 546.70,195.89 C546.67,195.94 546.78,196.04 546.50,196.19 C546.22,196.34 545.55,196.46 545.00,196.79 C544.45,197.12 543.78,197.62 543.20,198.19 C542.62,198.76 542.03,199.51 541.50,200.19 C540.97,200.87 540.50,202.29 540.00,202.29 C539.50,202.29 539.03,200.87 538.50,200.19 C537.97,199.51 537.38,198.72 536.80,198.19 C536.22,197.66 535.63,197.32 535.00,196.99 C534.37,196.66 533.45,196.37 533.00,196.19 C532.55,196.01 532.42,195.94 532.30,195.89 A1.30,1.30 0 0 1 532.30,193.29Z" fill="url(#g7)"/><circle cx="548.50" cy="194.59" r="1.3" fill="#6459da"/><circle cx="550.50" cy="194.59" r="1.3" fill="#008bfb"/><circle cx="552.50" cy="194.59" r="1.3" fill="#ff0051"/><circle cx="554.50" cy="194.59" r="1.3" fill="#008bfb"/><circle cx="556.50" cy="194.59" r="1.3" fill="#008bfb"/><circle cx="558.50" cy="194.59" r="1.3" fill="#008bfb"/><circle cx="560.50" cy="194.59" r="1.3" fill="#ff0051"/><circle cx="562.50" cy="194.59" r="1.3" fill="#008bfb"/><circle cx="564.50" cy="194.59" r="1.3" fill="#266cea"/><circle cx="566.50" cy="194.59" r="1.3" fill="#008bfb"/><circle cx="568.50" cy="194.59" r="1.3" fill="#ff0051"/><circle cx="570.50" cy="194.59" r="1.3" fill="#008bfb"/><circle cx="572.50" cy="194.59" r="1.3" fill="#6459da"/><circle cx="576.30" cy="194.59" r="1.15" fill="#008bfb"/><circle cx="578.50" cy="194.59" r="1.15" fill="#ff0051"/><circle cx="590.00" cy="194.59" r="1.15" fill="#008bfb"/><circle cx="499.70" cy="213.00" r="1.15" fill="#008bfb"/><path d="M514.20,211.70 C516.00,211.70 522.37,211.77 525.00,211.70 C527.63,211.63 528.58,211.45 530.00,211.30 C531.42,211.15 532.58,211.00 533.50,210.80 C534.42,210.60 534.87,210.45 535.50,210.10 C536.13,209.75 536.78,209.25 537.30,208.70 C537.82,208.15 538.22,207.42 538.60,206.80 C538.98,206.18 539.23,205.00 539.60,205.00 C539.97,205.00 540.37,206.18 540.80,206.80 C541.23,207.42 541.67,208.15 542.20,208.70 C542.73,209.25 543.37,209.72 544.00,210.10 C544.63,210.48 545.33,210.78 546.00,211.00 C546.67,211.22 545.67,211.32 548.00,211.40 C550.33,211.48 554.27,211.48 560.00,211.50 C565.73,211.52 578.67,211.50 582.40,211.50 A1.50,1.50 0 0 1 582.40,214.50 C578.67,214.50 565.73,214.48 560.00,214.50 C554.27,214.52 550.33,214.52 548.00,214.60 C545.67,214.68 546.67,214.78 546.00,215.00 C545.33,215.22 544.63,215.52 544.00,215.90 C543.37,216.28 542.73,216.75 542.20,217.30 C541.67,217.85 541.23,218.58 540.80,219.20 C540.37,219.82 539.97,221.00 539.60,221.00 C539.23,221.00 538.98,219.82 538.60,219.20 C538.22,218.58 537.82,217.85 537.30,217.30 C536.78,216.75 536.13,216.25 535.50,215.90 C534.87,215.55 534.42,215.40 533.50,215.20 C532.58,215.00 531.42,214.85 530.00,214.70 C528.58,214.55 527.63,214.37 525.00,214.30 C522.37,214.23 516.00,214.30 514.20,214.30 A1.30,1.30 0 0 1 514.20,211.70Z" fill="url(#g8)"/><circle cx="587.30" cy="213.00" r="1.15" fill="#ff0051"/><circle cx="592.70" cy="213.00" r="1.15" fill="#ff0051"/><circle cx="595.60" cy="213.00" r="1.15" fill="#ff0051"/><circle cx="603.90" cy="213.00" r="1.15" fill="#ff0051"/><rect x="508.90" y="230.31" width="10.10" height="2.20" rx="1.10" fill="#ff0051"/><circle cx="524.70" cy="231.41" r="1.1" fill="#ff0051"/><rect x="526.90" y="230.21" width="11.60" height="2.40" rx="1.20" fill="#ff0051"/><ellipse cx="536.3" cy="231.41" rx="1.8" ry="1.5" fill="#ff0051"/><rect x="538.85" y="223.50" width="3.30" height="15.30" rx="1.65" fill="#008bfb"/><rect x="538.50" y="230.21" width="7.20" height="2.40" rx="1.20" fill="#008bfb"/><ellipse cx="540.50" cy="231.41" rx="2.00" ry="3.50" fill="#008bfb"/><rect x="532.80" y="248.82" width="13.80" height="2.00" rx="1.00" fill="#ff0051"/><rect x="540.00" y="248.62" width="6.60" height="2.40" rx="1.20" fill="#ff0051"/><rect x="537.80" y="241.90" width="3.40" height="15.50" rx="1.70" fill="#008bfb"/><rect x="538.00" y="248.82" width="3.00" height="2.00" rx="1.00" fill="#008bfb"/><circle cx="520.80" cy="268.23" r="1.15" fill="#ff0051"/><rect x="527.90" y="267.13" width="25.10" height="2.20" rx="1.10" fill="#ff0051"/><rect x="538.20" y="260.60" width="3.40" height="14.80" rx="1.70" fill="#008bfb"/><rect x="538.00" y="267.23" width="4.00" height="2.00" rx="1.00" fill="#008bfb"/></svg></body></html>
